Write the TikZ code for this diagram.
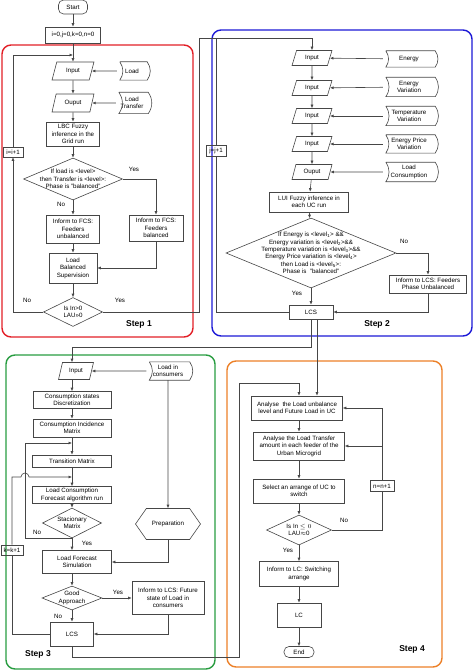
\documentclass[tikz,border=0pt]{standalone}
\usepackage{fontspec}
\setmainfont{Liberation Sans}
\usetikzlibrary{arrows.meta,shapes.geometric,shapes.symbols}
\definecolor{lineGray}{RGB}{70,70,70}
\definecolor{stepRed}{RGB}{226,30,38}
\definecolor{stepBlue}{RGB}{28,24,214}
\definecolor{stepGreen}{RGB}{40,156,64}
\definecolor{stepOrange}{RGB}{236,128,40}

\begin{document}
\begin{tikzpicture}[x=1pt,y=1pt,yscale=-1,
  font=\fontsize{6.2}{7.4}\selectfont,
  box/.style={draw=lineGray, line width=0.6pt, align=center, inner sep=1pt},
  io/.style={trapezium, trapezium stretches=true, trapezium left angle=70, trapezium right angle=110, draw=lineGray, line width=0.6pt, inner sep=0pt},
  store/.style={align=center, inner sep=1pt},
  decision/.style={diamond, draw=lineGray, line width=0.6pt, inner sep=0pt},
  term/.style={draw=lineGray, line width=0.6pt, rounded corners=5pt, inner sep=0pt},
  flow/.style={draw=lineGray, line width=0.6pt, -{Latex[length=3.5pt,width=3pt]}},
  link/.style={draw=lineGray, line width=0.6pt},
  frame/.style={line width=1.4pt, rounded corners=9pt},
  steptxt/.style={font=\fontsize{8.5}{10}\selectfont\bfseries},
  yn/.style={inner sep=0pt}
]
\useasboundingbox (0,0) rectangle (474,671);

%Shape: Step frames
\draw[frame, stepRed] (2,45) rectangle (193,337);
\draw[frame, stepBlue] (212,30) rectangle (472,336);
\draw[frame, stepGreen] (6,355) rectangle (215,669);
\draw[frame, stepOrange] (227,361) rectangle (442,667);

% Step 1
\node[term, minimum width=29, minimum height=14] (start) at (73,7) {Start};
\node[box, minimum width=55, minimum height=16] (init) at (73,35) {i=0,j=0,k=0,n=0};
\node[io, minimum width=42, minimum height=18] (in1) at (73,71) {Input};
\node[store, minimum width=30, minimum height=18] (load) at (132,71) {Load};
\node[io, minimum width=42, minimum height=18] (out1) at (73,103) {Ouput};
\node[store, minimum width=32, minimum height=21] (ltr) at (132,103) {Load\\Transfer};
\node[box, minimum width=53, minimum height=24] (lbc) at (73,134) {LBC Fuzzy\\inference in the\\Grid run};
\node[decision, minimum width=99, minimum height=42,
  label={[align=center]center:If load is <level>\\then Transfer is <level>:\\Phase is "balanced"}] (dec1) at (73,179) {};
\node[box, minimum width=53, minimum height=28] (fu) at (73,229) {Inform to FCS:\\Feeders\\unbalanced};
\node[box, minimum width=54, minimum height=26] (fb) at (156,228) {Inform to FCS:\\Feeders\\balanced};
\node[box, minimum width=48, minimum height=30] (lbs) at (73,268) {Load\\Balanced\\Supervision};
\node[decision, minimum width=59, minimum height=29,
  label={[align=center]center:Is In>0\\LAU>>0}] (dec2) at (73,312) {};
\node[box, minimum width=20, minimum height=10, inner sep=0.5pt] (ii) at (13,152) {i=i+1};
\coordinate (j1) at (73,55);
\coordinate (c1) at (199,38);

% Step 2
\node[io, minimum width=40, minimum height=15] (in2) at (312,58) {Input};
\node[io, minimum width=40, minimum height=15] (in3) at (312,88) {Input};
\node[io, minimum width=40, minimum height=15] (in4) at (312,116) {Input};
\node[io, minimum width=40, minimum height=15] (in5) at (312,144) {Input};
\node[io, minimum width=40, minimum height=15] (out2) at (312,172) {Ouput};
\node[store, minimum width=52, minimum height=16] (en) at (409,59) {Energy};
\node[store, minimum width=52, minimum height=19] (env) at (409,87) {Energy\\Variation};
\node[store, minimum width=52, minimum height=19] (tv) at (409,116) {Temperature\\Variation};
\node[store, minimum width=52, minimum height=18] (epv) at (409,144) {Energy Price\\Variation};
\node[store, minimum width=52, minimum height=19] (lc) at (409,172) {Load\\Consumption};
\node[box, minimum width=79, minimum height=20] (lui) at (309,202) {LUI Fuzzy inference in\\each UC run};
\node[decision, minimum width=170, minimum height=70,
  label={[align=center]center:If Energy is <level\textsubscript{1}> \&\&\\Energy variation is <level\textsubscript{2}>\&\&\\Temperature variation is <level\textsubscript{3}>\&\&\\Energy Price variation is <level\textsubscript{4}>\\then Load is <level\textsubscript{5}>:\\Phase is \ "balanced"}] (dec3) at (311,253) {};
\node[box, minimum width=77, minimum height=18] (pu) at (428,284) {Inform to LCS: Feeders\\Phase Unbalanced};
\node[box, minimum width=44, minimum height=14] (lcs2) at (311,312) {LCS};
\node[box, minimum width=20, minimum height=11, inner sep=0.5pt] (jj) at (216,151) {j=j+1};

% Step 3
\node[io, minimum width=35, minimum height=17] (in6) at (76,371) {Input};
\node[store, minimum width=43, minimum height=18] (lic) at (168,371) {Load in\\consumers};
\node[box, minimum width=78, minimum height=17] (csd) at (72,400) {Consumption states\\Discretization};
\node[box, minimum width=78, minimum height=18] (cim) at (72,428) {Consumption Incidence\\Matrix};
\node[box, minimum width=79, minimum height=12] (tm) at (72,461) {Transition Matrix};
\node[box, minimum width=79, minimum height=17] (lcf) at (72,495) {Load Consumption\\Forecast algorithm run};
\node[decision, minimum width=59, minimum height=30,
  label={[align=center]center:Stacionary\\Matrix}] (stac) at (72,523) {};
\node[signal, signal to=west and east, signal pointer angle=110, draw=lineGray, line width=0.6pt,
  minimum width=65, minimum height=31] (prep) at (168,524) {Preparation};
\node[box, minimum width=69, minimum height=23] (lfs) at (77,562) {Load Forecast\\Simulation};
\node[decision, minimum width=60, minimum height=24,
  label={[align=center]center:Good\\Approach}] (good) at (72,598) {};
\node[box, minimum width=72, minimum height=33] (fut) at (168,598) {Inform to LCS: Future\\state of Load in\\consumers};
\node[box, minimum width=43, minimum height=24] (lcs3) at (72,634) {LCS};
\node[box, minimum width=22, minimum height=10, inner sep=0.5pt] (kk) at (12,550) {k=k+1};
\coordinate (c3) at (72,347);
\coordinate (c4) at (25,443);
\coordinate (j4) at (72,443);
\coordinate (j5) at (72,477);

% Step 4
\node[box, minimum width=91, minimum height=24] (an1) at (297,408) {Analyse \ the Load unbalance\\level and Future Load in UC};
\node[box, minimum width=91, minimum height=28] (an2) at (299,446) {Analyse the Load Transfer\\amount in each feeder of the\\Urban Microgrid};
\node[box, minimum width=91, minimum height=24] (sel) at (299,491) {Select an arrange of UC to\\switch};
\node[decision, minimum width=65, minimum height=30,
  label={[align=center]center:Is In $\leq 0$\\LAU$\approx$0}] (dec4) at (299,530) {};
\node[box, minimum width=79, minimum height=25] (inf) at (299,574) {Inform to LC: Switching\\arrange};
\node[box, minimum width=44, minimum height=24] (lcn) at (299,615) {LC};
\node[term, minimum width=30, minimum height=11] (fin) at (299,652) {End};
\node[box, minimum width=24, minimum height=11, inner sep=0.5pt] (nn) at (382,486) {n=n+1};
\coordinate (c5) at (239,657);
\coordinate (c6) at (299,383);

%Shape: stored data
\foreach \s in {load,ltr,en,env,tv,epv,lc,lic}
  \draw[link] ([xshift=3]\s.north west) -- (\s.north east) to[bend right=35] (\s.south east)
    -- ([xshift=3]\s.south west) to[bend left=35] ([xshift=3]\s.north west);

%Straight Lines: step 1
\draw[flow] (start) -- (init);
\draw[flow] (init) -- (in1);
\draw[flow] (load) -- (in1);
\draw[flow] (in1) -- (out1);
\draw[flow] (ltr) -- (out1);
\draw[flow] (out1) -- (lbc);
\draw[flow] (lbc) -- (dec1);
\draw[flow] (dec1) -- (fu);
\draw[flow] (dec1.east) -| (fb);
\draw[flow] (fu) -- (lbs);
\draw[flow] (fb) |- (lbs);
\draw[flow] (lbs) -- (dec2);
\draw[flow] (dec2.west) -| (ii);
\draw[flow] (ii) |- (j1);
\draw[flow] (dec2.east) -| (c1) -| (in2);

%Straight Lines: step 2
\draw[flow] (en) -- (in2);
\draw[flow] (env) -- (in3);
\draw[flow] (tv) -- (in4);
\draw[flow] (epv) -- (in5);
\draw[flow] (lc) -- (out2);
\draw[flow] (in2) -- (in3);
\draw[flow] (in3) -- (in4);
\draw[flow] (in4) -- (in5);
\draw[flow] (in5) -- (out2);
\draw[flow] (out2) -- (lui);
\draw[flow] (lui) -- (dec3);
\draw[flow] (dec3) -- (lcs2);
\draw[flow] (dec3.east) -| (pu);
\draw[flow] (pu) |- (lcs2);
\draw[link] (lcs2.west) -| (jj);
\draw[link] (jj) -- (jj |- c1);

%Straight Lines: step 3
\draw[flow] (lcs2.south) |- (c3) -- (c3 |- in6.north);
\draw[flow] (lic) -- (in6);
\draw[flow] (in6.south -| csd) -- (csd);
\draw[flow] (csd) -- (cim);
\draw[flow] (cim) -- (tm);
\draw[flow] (tm) -- (lcf);
\draw[flow] (lcf) -- (stac);
\draw[flow] (stac) -- (stac |- lfs.north);
\draw[flow] (stac.south) -| (c4) -- (j4);
\draw[flow] (lic) -- (prep);
\draw[flow] (prep) |- (lfs);
\draw[flow] (lfs.south -| good) -- (good);
\draw[flow] (good) -- (fut);
\draw[flow] (good) -- (lcs3);
\draw[flow] (fut) |- (lcs3);
\draw[link] (lcs3.west) -| (kk);
\draw[flow] (kk) |- (21,477) arc(180:360:4) -- (j5);

%Straight Lines: step 4
\draw[flow] (lcs3.south) |- (c5) |- (c6) -- (c6 |- an1.north);
\draw[flow] ([xshift=6]lcs2.south) -- ([xshift=6]lcs2.south |- an1.north);
\draw[flow] (an1.south -| an2) -- (an2);
\draw[flow] (an2) -- (sel);
\draw[flow] (sel) -- (dec4);
\draw[flow] (dec4) -- (inf);
\draw[flow] (inf) -- (lcn);
\draw[flow] (lcn) -- (fin);
\draw[link] (dec4.east) -| (nn);
\draw[flow] (nn) |- (an2);
\draw[flow] (nn) |- (an1);

% Text Node
\node[yn] (y1) at (134,169) {Yes};
\node[yn] (n1) at (61,204) {No};
\node[yn] (n2) at (27,300) {No};
\node[yn] (y2) at (120,300) {Yes};
\node[yn] (n3) at (404,241) {No};
\node[yn] (y3) at (297,293) {Yes};
\node[yn] (n4) at (37,532) {No};
\node[yn] (y4) at (87,543) {Yes};
\node[yn] (y5) at (118,592) {Yes};
\node[yn] (n5) at (58,616) {No};
\node[yn] (n6) at (344,520) {No};
\node[yn] (y6) at (288,550) {Yes};
\node[steptxt] (s1) at (139,324) {Step 1};
\node[steptxt] (s2) at (377,324) {Step 2};
\node[steptxt] (s3) at (38,654) {Step 3};
\node[steptxt] (s4) at (412,649) {Step 4};

\end{tikzpicture}
\end{document}
